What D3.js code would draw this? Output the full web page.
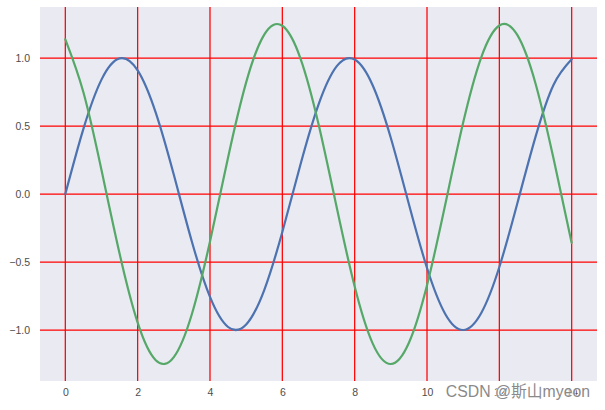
<!DOCTYPE html>
<html>
<head>
<meta charset="utf-8">
<script src="https://cdn.jsdelivr.net/npm/d3@7"></script>
<style>
	body { margin: 0; background: #fff; }
	svg { display: block; font-family: "Liberation Sans", Arial, sans-serif; }
</style>
</head>
<body>
<div id="chart"></div>
<script>
// x positions of the samples
const xs = [0, 0.5, 1, 1.5, 2, 2.5, 3, 3.5, 4, 4.5, 5, 5.5, 6, 6.5, 7,
	7.5, 8, 8.5, 9, 9.5, 10, 10.5, 11, 11.5, 12, 12.5, 13, 13.5, 14];

// blue line
const blueVals = [0, 0.479, 0.841, 0.997, 0.909, 0.598, 0.141, -0.351, -0.757, -0.978,
	-0.959, -0.706, -0.279, 0.215, 0.657, 0.938, 0.989, 0.798, 0.412, -0.075,
	-0.544, -0.880, -1.000, -0.875, -0.537, -0.066, 0.420, 0.804, 0.991];

// green line
const greenVals = [1.137, 0.748, 0.176, -0.438, -0.946, -1.222, -1.199, -0.882, -0.349, 0.269,
	0.821, 1.172, 1.237, 0.998, 0.515, -0.094, -0.680, -1.100, -1.250, -1.094,
	-0.671, -0.083, 0.525, 1.005, 1.239, 1.168, 0.813, 0.259, -0.360];

const xTicks = [0, 2, 4, 6, 8, 10, 12, 14];
const yTicks = [-1.0, -0.5, 0.0, 0.5, 1.0];

const width = 605;
const height = 410;
const margin = { top: 7, right: 8, bottom: 29, left: 40 };

const svg = d3.select('#chart').append('svg')
	.attr('width', width)
	.attr('height', height);

const x = d3.scaleLinear()
	.domain([-0.7, 14.7])
	.range([margin.left, width - margin.right]);

const y = d3.scaleLinear()
	.domain([-1.375, 1.375])
	.range([height - margin.bottom, margin.top]);

svg.append('rect')
	.attr('x', margin.left)
	.attr('y', margin.top)
	.attr('width', width - margin.left - margin.right)
	.attr('height', height - margin.top - margin.bottom)
	.attr('fill', '#eaeaf2');

// red grid
svg.append('g')
	.selectAll('line')
	.data(xTicks)
	.join('line')
		.attr('x1', d => x(d)).attr('x2', d => x(d))
		.attr('y1', margin.top).attr('y2', height - margin.bottom)
		.attr('stroke', '#ff0000')
		.attr('stroke-width', 1.25);

svg.append('g')
	.selectAll('line')
	.data(yTicks)
	.join('line')
		.attr('x1', margin.left).attr('x2', width - margin.right)
		.attr('y1', d => y(d)).attr('y2', d => y(d))
		.attr('stroke', '#ff0000')
		.attr('stroke-width', 1.25);

const line = d3.line()
	.x(d => x(d[0]))
	.y(d => y(d[1]))
	.curve(d3.curveNatural);

const series = [
	{ vals: blueVals, color: '#4c72b0' },
	{ vals: greenVals, color: '#55a868' },
];

for (const s of series) {
	svg.append('path')
		.datum(xs.map((v, i) => [v, s.vals[i]]))
		.attr('d', line)
		.attr('fill', 'none')
		.attr('stroke', s.color)
		.attr('stroke-width', 2.2)
		.attr('stroke-linecap', 'round');
}

// axes, no domain lines / ticks in seaborn darkgrid
const xAxis = svg.append('g')
	.attr('transform', `translate(0,${height - margin.bottom})`)
	.call(d3.axisBottom(x).tickValues(xTicks).tickSize(0).tickPadding(8).tickFormat(d3.format('d')));

const yAxis = svg.append('g')
	.attr('transform', `translate(${margin.left},0)`)
	.call(d3.axisLeft(y).tickValues(yTicks).tickSize(0).tickPadding(10)
		.tickFormat(d => d3.format('.1f')(d).replace('-', '\u2212')));

for (const ax of [xAxis, yAxis]) {
	ax.select('.domain').remove();
	ax.selectAll('text')
		.attr('fill', '#4d4d4d')
		.attr('font-size', 10.5)
		.attr('font-family', '"Liberation Sans", Arial, sans-serif');
}

// watermark
svg.append('text')
	.attr('x', 590)
	.attr('y', 397)
	.attr('text-anchor', 'end')
	.attr('font-size', 15.8)
	.attr('fill', '#8a8a8a')
	.attr('stroke', '#fff')
	.attr('stroke-width', 2)
	.attr('stroke-opacity', 0.6)
	.attr('paint-order', 'stroke')
	.attr('font-family', '"Liberation Sans", "Noto Sans CJK SC", sans-serif')
	.text('CSDN @斯山myeon');
</script>
</body>
</html>
